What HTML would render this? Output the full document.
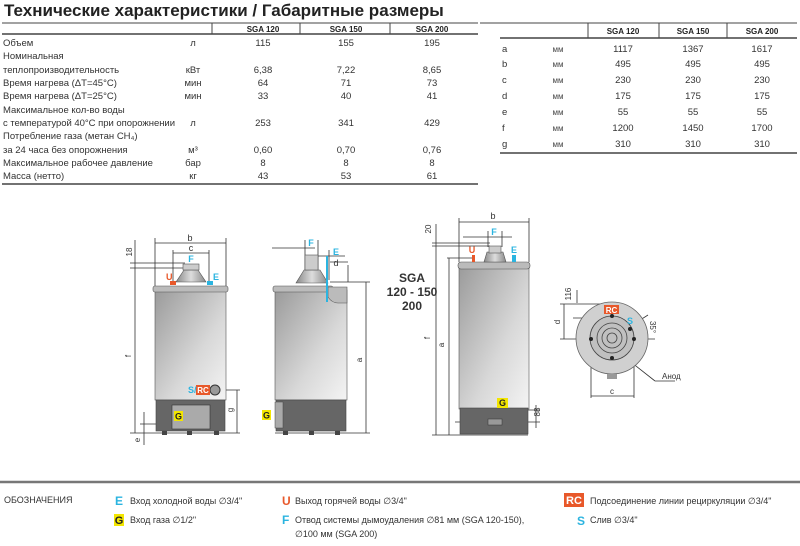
<!DOCTYPE html>
<html><head><meta charset="utf-8"><style>
body{margin:0;background:#fff}
svg text{font-family:"Liberation Sans",sans-serif}
</style></head><body>
<svg width="800" height="541" viewBox="0 0 800 541" xmlns="http://www.w3.org/2000/svg">
<defs>
<linearGradient id="body" x1="0" y1="0" x2="1" y2="1">
<stop offset="0" stop-color="#9a9a9a"/><stop offset="0.6" stop-color="#d8d8d8"/><stop offset="1" stop-color="#f4f4f4"/>
</linearGradient>
<linearGradient id="cone" x1="0" y1="0" x2="1" y2="0">
<stop offset="0" stop-color="#888"/><stop offset="0.5" stop-color="#ddd"/><stop offset="1" stop-color="#888"/>
</linearGradient>
</defs>
<text x="4" y="16" font-size="17" font-weight="bold" fill="#222">Технические характеристики / Габаритные размеры</text>
<!-- left table -->
<g stroke="#444" fill="none">
<line x1="2" y1="23" x2="478" y2="23" stroke-width="1"/>
<line x1="2" y1="34" x2="478" y2="34" stroke-width="1.5"/>
<line x1="212" y1="23" x2="212" y2="34"/><line x1="300" y1="23" x2="300" y2="34"/><line x1="390" y1="23" x2="390" y2="34"/>
<line x1="2" y1="184" x2="478" y2="184" stroke-width="1.5"/>
<line x1="480" y1="23" x2="797" y2="23"/>
<line x1="500" y1="38" x2="797" y2="38" stroke-width="1.5"/>
<line x1="588" y1="23" x2="588" y2="38"/><line x1="659" y1="23" x2="659" y2="38"/><line x1="727" y1="23" x2="727" y2="38"/>
<line x1="500" y1="153" x2="797" y2="153" stroke-width="1.5"/>
</g>
<g font-size="8" font-weight="bold" fill="#222" text-anchor="middle">
<text x="263" y="32">SGA 120</text><text x="346" y="32">SGA 150</text><text x="432" y="32">SGA 200</text>
<text x="623" y="34">SGA 120</text><text x="693" y="34">SGA 150</text><text x="762" y="34">SGA 200</text>
</g>
<g font-size="9.5" fill="#333">
<text x="3" y="46">Объем</text><text x="3" y="59">Номинальная</text><text x="3" y="73">теплопроизводительность</text>
<text x="3" y="86">Время нагрева (ΔT=45°C)</text><text x="3" y="99">Время нагрева (ΔT=25°C)</text>
<text x="3" y="113">Максимальное кол-во воды</text><text x="3" y="126" textLength="172">с температурой 40°C при опорожнении</text>
<text x="3" y="139">Потребление газа (метан CH₄)</text><text x="3" y="153">за 24 часа без опорожнения</text>
<text x="3" y="166">Максимальное рабочее давление</text><text x="3" y="179">Масса (нетто)</text>
</g>
<g font-size="9.5" fill="#333" text-anchor="middle">
<text x="193" y="46">л</text><text x="193" y="73">кВт</text><text x="193" y="86">мин</text><text x="193" y="99">мин</text><text x="193" y="126">л</text><text x="193" y="153">м³</text><text x="193" y="166">бар</text><text x="193" y="179">кг</text>
<text x="263" y="46">115</text><text x="346" y="46">155</text><text x="432" y="46">195</text>
<text x="263" y="73">6,38</text><text x="346" y="73">7,22</text><text x="432" y="73">8,65</text>
<text x="263" y="86">64</text><text x="346" y="86">71</text><text x="432" y="86">73</text>
<text x="263" y="99">33</text><text x="346" y="99">40</text><text x="432" y="99">41</text>
<text x="263" y="126">253</text><text x="346" y="126">341</text><text x="432" y="126">429</text>
<text x="263" y="153">0,60</text><text x="346" y="153">0,70</text><text x="432" y="153">0,76</text>
<text x="263" y="166">8</text><text x="346" y="166">8</text><text x="432" y="166">8</text>
<text x="263" y="179">43</text><text x="346" y="179">53</text><text x="432" y="179">61</text>
</g>
<g font-size="9.5" fill="#333">
<text x="502" y="52">a</text><text x="502" y="67">b</text><text x="502" y="83">c</text><text x="502" y="99">d</text><text x="502" y="115">e</text><text x="502" y="131">f</text><text x="502" y="147">g</text>
</g>
<g font-size="8" fill="#444" text-anchor="middle">
<text x="558" y="52">мм</text><text x="558" y="67">мм</text><text x="558" y="83">мм</text><text x="558" y="99">мм</text><text x="558" y="115">мм</text><text x="558" y="131">мм</text><text x="558" y="147">мм</text>
</g>
<g font-size="9.5" fill="#333" text-anchor="middle">
<text x="623" y="52">1117</text><text x="693" y="52">1367</text><text x="762" y="52">1617</text>
<text x="623" y="67">495</text><text x="693" y="67">495</text><text x="762" y="67">495</text>
<text x="623" y="83">230</text><text x="693" y="83">230</text><text x="762" y="83">230</text>
<text x="623" y="99">175</text><text x="693" y="99">175</text><text x="762" y="99">175</text>
<text x="623" y="115">55</text><text x="693" y="115">55</text><text x="762" y="115">55</text>
<text x="623" y="131">1200</text><text x="693" y="131">1450</text><text x="762" y="131">1700</text>
<text x="623" y="147">310</text><text x="693" y="147">310</text><text x="762" y="147">310</text>
</g>

<!-- drawing 1 front -->
<g stroke="#333" stroke-width="0.8" fill="none">
<line x1="155" y1="238" x2="155" y2="290"/><line x1="226" y1="238" x2="226" y2="290"/>
<line x1="155" y1="243" x2="226" y2="243"/>
<line x1="173" y1="250" x2="173" y2="282"/><line x1="209" y1="250" x2="209" y2="282"/>
<line x1="173" y1="253" x2="209" y2="253"/>
<line x1="130" y1="263" x2="185" y2="263"/><line x1="130" y1="268" x2="185" y2="268"/>
<line x1="135" y1="240" x2="135" y2="433"/>
<line x1="130" y1="433" x2="240" y2="433"/>
<line x1="210" y1="390" x2="240" y2="390"/><line x1="237" y1="390" x2="237" y2="433"/>
<line x1="140" y1="424" x2="175" y2="424"/><line x1="144" y1="412" x2="144" y2="445"/>
</g>
<rect x="155" y="290" width="71" height="110" fill="url(#body)" stroke="#555" stroke-width="0.6"/>
<rect x="153" y="286" width="75" height="6" rx="2" fill="#bbb" stroke="#555" stroke-width="0.6"/>
<polygon points="176,282 206,282 198,270 184,270" fill="url(#cone)" stroke="#555" stroke-width="0.6"/>
<rect x="183" y="264" width="16" height="6" fill="#ccc" stroke="#555" stroke-width="0.6"/>
<rect x="156" y="400" width="69" height="31" fill="#666" stroke="#444" stroke-width="0.6"/>
<rect x="172" y="405" width="38" height="24" fill="#aaa" stroke="#333" stroke-width="0.6"/>
<g fill="#444"><rect x="162" y="431" width="5" height="4"/><rect x="187" y="431" width="5" height="4"/><rect x="214" y="431" width="5" height="4"/></g>
<rect x="170" y="281" width="6" height="4" fill="#e8582a"/><rect x="207" y="281" width="6" height="4" fill="#2bb4e0"/>
<circle cx="215" cy="390" r="5" fill="#999" stroke="#333"/>
<rect x="196" y="385" width="14" height="10" fill="#e8582a"/>
<text x="203" y="393" font-size="8" font-weight="bold" fill="#fff" text-anchor="middle">RC</text>
<text x="188" y="393" font-size="9" font-weight="bold" fill="#2bb4e0">S/</text>
<rect x="174" y="411" width="9" height="10" fill="#f3e600"/>
<text x="178.5" y="419.5" font-size="9" font-weight="bold" fill="#222" text-anchor="middle">G</text>
<text x="190" y="241" font-size="9" fill="#333" text-anchor="middle">b</text>
<text x="191" y="251" font-size="9" fill="#333" text-anchor="middle">c</text>
<text x="191" y="262" font-size="9" font-weight="bold" fill="#2bb4e0" text-anchor="middle">F</text>
<text x="166" y="280" font-size="9" font-weight="bold" fill="#e8582a">U</text>
<text x="213" y="280" font-size="9" font-weight="bold" fill="#2bb4e0">E</text>
<text x="132" y="252" font-size="8" fill="#333" transform="rotate(-90 132 252)" text-anchor="middle">18</text>
<text x="131" y="356" font-size="8" fill="#333" transform="rotate(-90 131 356)" text-anchor="middle">f</text>
<text x="233" y="410" font-size="8" fill="#333" transform="rotate(-90 233 410)" text-anchor="middle">g</text>
<text x="140" y="440" font-size="8" fill="#333" transform="rotate(-90 140 440)" text-anchor="middle">e</text>

<!-- drawing 2 side -->
<g stroke="#333" stroke-width="0.8" fill="none">
<line x1="272" y1="248" x2="315" y2="248"/><line x1="305" y1="240" x2="305" y2="270"/><line x1="318" y1="240" x2="318" y2="270"/>
<line x1="318" y1="256" x2="345" y2="256"/><line x1="329" y1="250" x2="329" y2="280"/>
<line x1="348" y1="265" x2="348" y2="282"/><line x1="330" y1="262" x2="348" y2="262"/>
<line x1="330" y1="282" x2="370" y2="282"/><line x1="366" y1="282" x2="366" y2="433"/>
<line x1="275" y1="433" x2="370" y2="433"/>
</g>
<rect x="275" y="290" width="72" height="110" fill="url(#body)" stroke="#555" stroke-width="0.6"/>
<rect x="273" y="286" width="60" height="6" rx="2" fill="#bbb" stroke="#555" stroke-width="0.6"/>
<path d="M328 287 H347 V303 H338 Q332 303 328 297 Z" fill="#bbb" stroke="#555" stroke-width="0.6"/>
<polygon points="296,283 328,283 320,270 304,270" fill="url(#cone)" stroke="#555" stroke-width="0.6"/>
<rect x="305" y="255" width="13" height="15" fill="#ccc" stroke="#555" stroke-width="0.6"/>
<line x1="327" y1="256" x2="327" y2="302" stroke="#2bb4e0" stroke-width="2"/>
<rect x="276" y="400" width="70" height="31" fill="#666" stroke="#444" stroke-width="0.6"/>
<rect x="275" y="402" width="8" height="26" fill="#aaa" stroke="#444" stroke-width="0.5"/>
<g fill="#444"><rect x="283" y="431" width="5" height="4"/><rect x="309" y="431" width="5" height="4"/><rect x="335" y="431" width="5" height="4"/></g>
<rect x="262" y="410" width="9" height="10" fill="#f3e600"/>
<text x="266.5" y="418.5" font-size="9" font-weight="bold" fill="#222" text-anchor="middle">G</text>
<text x="311" y="246" font-size="9" font-weight="bold" fill="#2bb4e0" text-anchor="middle">F</text>
<text x="336" y="255" font-size="9" font-weight="bold" fill="#2bb4e0" text-anchor="middle">E</text>
<text x="336" y="266" font-size="9" fill="#333" text-anchor="middle">d</text>
<text x="362" y="360" font-size="8" fill="#333" transform="rotate(-90 362 360)" text-anchor="middle">a</text>

<!-- drawing 3 -->
<text x="412" y="282" font-size="12" font-weight="bold" fill="#333" text-anchor="middle">SGA</text>
<text x="412" y="296" font-size="12" font-weight="bold" fill="#333" text-anchor="middle">120 - 150</text>
<text x="412" y="310" font-size="12" font-weight="bold" fill="#333" text-anchor="middle">200</text>
<g stroke="#333" stroke-width="0.8" fill="none">
<line x1="459" y1="218" x2="459" y2="262"/><line x1="529" y1="218" x2="529" y2="262"/><line x1="459" y1="222" x2="529" y2="222"/>
<line x1="463" y1="237" x2="512" y2="237"/><line x1="488" y1="231" x2="488" y2="247"/><line x1="502" y1="231" x2="502" y2="247"/>
<line x1="432" y1="243" x2="490" y2="243"/><line x1="432" y1="246" x2="490" y2="246"/>
<line x1="436" y1="224" x2="436" y2="435"/>
<line x1="447" y1="258" x2="475" y2="258"/><line x1="449" y1="258" x2="449" y2="435"/>
<line x1="432" y1="435" x2="528" y2="435"/>
<line x1="518" y1="410" x2="540" y2="410"/><line x1="536" y1="405" x2="536" y2="428"/>
<line x1="455" y1="422" x2="540" y2="422"/>
</g>
<rect x="459" y="264" width="70" height="145" fill="url(#body)" stroke="#555" stroke-width="0.6"/>
<rect x="458" y="262" width="72" height="7" rx="3" fill="#bbb" stroke="#555" stroke-width="0.6"/>
<polygon points="484,262 506,262 503,252 487,252" fill="url(#cone)" stroke="#555" stroke-width="0.6"/>
<rect x="489" y="246" width="12" height="7" fill="#ccc" stroke="#555" stroke-width="0.6"/>
<rect x="460" y="408" width="68" height="26" fill="#666" stroke="#444" stroke-width="0.6"/>
<rect x="488" y="419" width="14" height="6" fill="#999" stroke="#333" stroke-width="0.5"/>
<rect x="472" y="255" width="3" height="7" fill="#e8582a"/><rect x="512" y="255" width="4" height="7" fill="#2bb4e0"/>
<rect x="497" y="398" width="11" height="10" fill="#f3e600"/>
<text x="502.5" y="406" font-size="9" font-weight="bold" fill="#222" text-anchor="middle">G</text>
<text x="493" y="219" font-size="9" fill="#333" text-anchor="middle">b</text>
<text x="494" y="235" font-size="9" font-weight="bold" fill="#2bb4e0" text-anchor="middle">F</text>
<text x="472" y="253" font-size="9" font-weight="bold" fill="#e8582a" text-anchor="middle">U</text>
<text x="514" y="253" font-size="9" font-weight="bold" fill="#2bb4e0" text-anchor="middle">E</text>
<text x="431" y="229" font-size="8" fill="#333" transform="rotate(-90 431 229)" text-anchor="middle">20</text>
<text x="430" y="338" font-size="8" fill="#333" transform="rotate(-90 430 338)" text-anchor="middle">f</text>
<text x="444" y="345" font-size="8" fill="#333" transform="rotate(-90 444 345)" text-anchor="middle">a</text>
<text x="540" y="412" font-size="8" fill="#333" transform="rotate(-90 540 412)" text-anchor="middle">88</text>

<!-- top view -->
<g stroke="#333" stroke-width="0.8" fill="none">
<line x1="577" y1="290" x2="577" y2="303"/><line x1="560" y1="304" x2="605" y2="304"/>
<line x1="560" y1="339" x2="655" y2="339"/><line x1="564" y1="304" x2="564" y2="339"/>
<line x1="573" y1="318" x2="612" y2="318"/>
<line x1="591" y1="339" x2="591" y2="398"/><line x1="634" y1="339" x2="634" y2="398"/><line x1="591" y1="396" x2="634" y2="396"/>
<line x1="612" y1="338" x2="648" y2="315"/>
<line x1="613" y1="348" x2="655" y2="381"/><line x1="655" y1="381" x2="675" y2="381"/>
</g>
<circle cx="612" cy="338" r="36" fill="#d0d0d0" stroke="#666" stroke-width="0.8"/>
<circle cx="612" cy="338" r="22" fill="#c0c0c0" stroke="#444" stroke-width="0.8"/>
<circle cx="612" cy="338" r="15" fill="none" stroke="#444" stroke-width="0.8"/>
<circle cx="612" cy="338" r="10" fill="none" stroke="#444" stroke-width="0.8"/>
<circle cx="612" cy="338" r="5" fill="none" stroke="#444" stroke-width="0.8"/>
<rect x="607" y="374" width="10" height="5" fill="#999"/>
<g fill="#222"><circle cx="612" cy="316" r="2"/><circle cx="591" cy="339" r="2"/><circle cx="634" cy="339" r="2"/><circle cx="630" cy="329" r="2"/><circle cx="612" cy="358" r="2"/></g>
<rect x="604" y="305" width="15" height="9" fill="#e8582a"/>
<text x="611.5" y="313" font-size="8" font-weight="bold" fill="#fff" text-anchor="middle">RC</text>
<text x="630" y="324" font-size="9" font-weight="bold" fill="#2bb4e0" text-anchor="middle">S</text>
<text x="571" y="294" font-size="8" fill="#333" transform="rotate(-90 571 294)" text-anchor="middle">116</text>
<text x="560" y="322" font-size="8" fill="#333" transform="rotate(-90 560 322)" text-anchor="middle">d</text>
<text x="650" y="327" font-size="8" fill="#333" transform="rotate(90 650 327)" text-anchor="middle">35°</text>
<text x="612" y="394" font-size="8" fill="#333" text-anchor="middle">c</text>
<text x="662" y="379" font-size="8" fill="#333">Анод</text>

<!-- legend -->
<line x1="0" y1="482" x2="800" y2="482" stroke="#777" stroke-width="2.5"/>
<g font-size="9" fill="#333">
<text x="4" y="503">ОБОЗНАЧЕНИЯ</text>
<text x="130" y="504">Вход холодной воды ∅3/4"</text>
<text x="130" y="523">Вход газа ∅1/2"</text>
<text x="295" y="504">Выход горячей воды ∅3/4"</text>
<text x="295" y="523">Отвод системы дымоудаления ∅81 мм (SGA 120-150),</text>
<text x="295" y="537">∅100 мм (SGA 200)</text>
<text x="590" y="504">Подсоединение линии рециркуляции ∅3/4"</text>
<text x="590" y="523">Слив ∅3/4"</text>
</g>
<text x="115" y="505" font-size="12" font-weight="bold" fill="#2bb4e0">E</text>
<rect x="114" y="514" width="10" height="12" fill="#f3e600"/>
<text x="119" y="524" font-size="11" font-weight="bold" fill="#222" text-anchor="middle">G</text>
<text x="282" y="505" font-size="12" font-weight="bold" fill="#e8582a">U</text>
<text x="282" y="524" font-size="12" font-weight="bold" fill="#2bb4e0">F</text>
<rect x="564" y="493" width="20" height="14" fill="#e8582a"/>
<text x="574" y="504" font-size="11" font-weight="bold" fill="#fff" text-anchor="middle">RC</text>
<text x="577" y="525" font-size="12" font-weight="bold" fill="#2bb4e0">S</text>
</svg>
</body></html>
